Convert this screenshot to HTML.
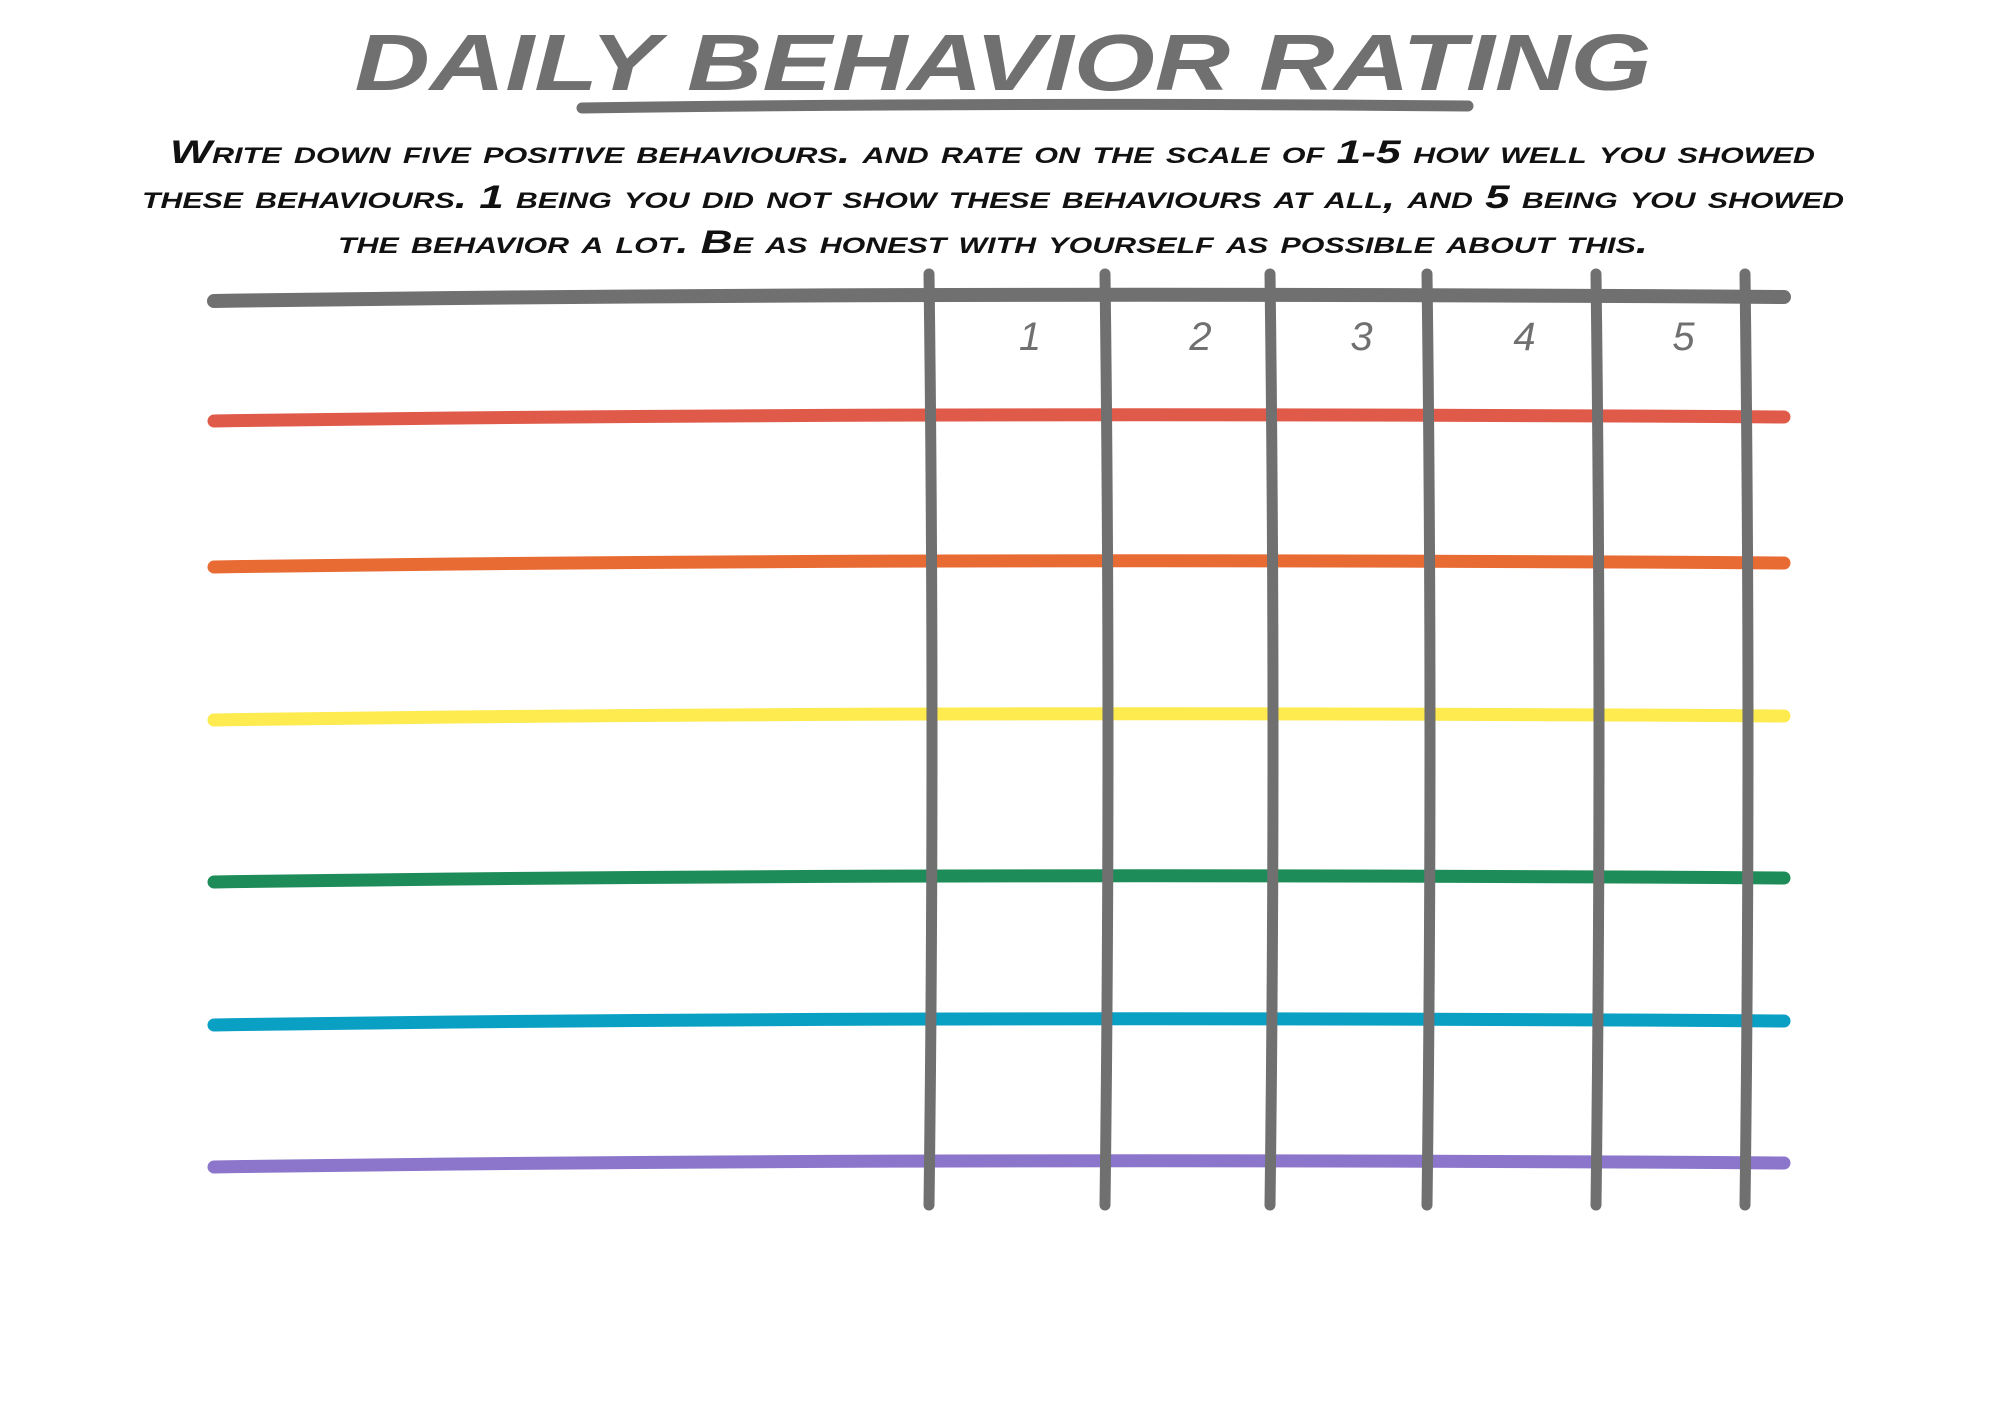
<!DOCTYPE html>
<html><head><meta charset="utf-8"><style>
html,body{margin:0;padding:0;background:#fff;}
svg{display:block;}
</style></head><body>
<svg id="chart" width="2000" height="1414" viewBox="0 0 2000 1414" xmlns="http://www.w3.org/2000/svg">
<rect width="2000" height="1414" fill="#fff"/>
<text x="1003" y="90" text-anchor="middle" font-family="Liberation Sans, sans-serif" font-weight="bold" font-style="italic" font-size="80" fill="#707070" textLength="1297" lengthAdjust="spacingAndGlyphs">DAILY BEHAVIOR RATING</text>
<path d="M582 108 Q1000 102 1468 106" stroke="#707070" stroke-width="11" stroke-linecap="round" fill="none"/>
<g font-family="Liberation Sans, sans-serif" font-weight="bold" font-style="italic" font-size="32" fill="#111" font-variant="small-caps">
<text x="170" y="163" textLength="1645" lengthAdjust="spacingAndGlyphs">Write down five positive behaviours. and rate on the scale of 1-5 how well you showed</text>
<text x="142" y="208" textLength="1702" lengthAdjust="spacingAndGlyphs">these behaviours. 1 being you did not show these behaviours at all, and 5 being you showed</text>
<text x="338" y="253" textLength="1310" lengthAdjust="spacingAndGlyphs">the behavior a lot. Be as honest with yourself as possible about this.</text>
</g>
<g id="grid"></g>
</svg>
<script>
const columnLabels = ["1","2","3","4","5"];
const rowNames = ["behavior-1","behavior-2","behavior-3","behavior-4","behavior-5","behavior-6"];
const rowColors = ["#e05a4a","#e86b33","#fdeb4f","#1e8c58","#0aa0c4","#8b76cc"];
const ns = "http://www.w3.org/2000/svg";
const g = document.getElementById('grid');
// layout
const xLeft = 214, xRight = 1784;
const colEdges = [929,1105,1270,1427,1596,1745];
const rowYs = [417,563,716,878,1021,1163];
const yTop = 297, yVStart = 274, yVEnd = 1205;
function mk(tag, attrs){ const e=document.createElementNS(ns,tag); for(const k in attrs) e.setAttribute(k,attrs[k]); g.appendChild(e); return e; }
let h = mk('path',{d:`M${xLeft} ${yTop+4} Q900 ${yTop-6} ${xRight} ${yTop}`,stroke:'#707070','stroke-width':14,'stroke-linecap':'round',fill:'none'});


rowNames.forEach((n,i)=>{
  const y=rowYs[i];
  const p=mk('path',{d:`M${xLeft} ${y+4} Q900 ${y-6} ${xRight} ${y}`,stroke:rowColors[i],'stroke-width':13,'stroke-linecap':'round',fill:'none'});
  
  
});
colEdges.forEach((x,i)=>{
  const p=mk('path',{d:`M${x} ${yVStart} Q${x+6} 740 ${x} ${yVEnd}`,stroke:'#707070','stroke-width':11,'stroke-linecap':'round',fill:'none'});
  
  
});
columnLabels.forEach((l,i)=>{
  const cx=(colEdges[i]+colEdges[i+1])/2 + 13;
  const t=mk('text',{x:cx,y:350,'text-anchor':'middle','font-family':'Liberation Sans, sans-serif','font-size':40,'font-style':'italic',fill:'#707070'});
  t.textContent=l;
  
  
});
</script>
</body></html>
